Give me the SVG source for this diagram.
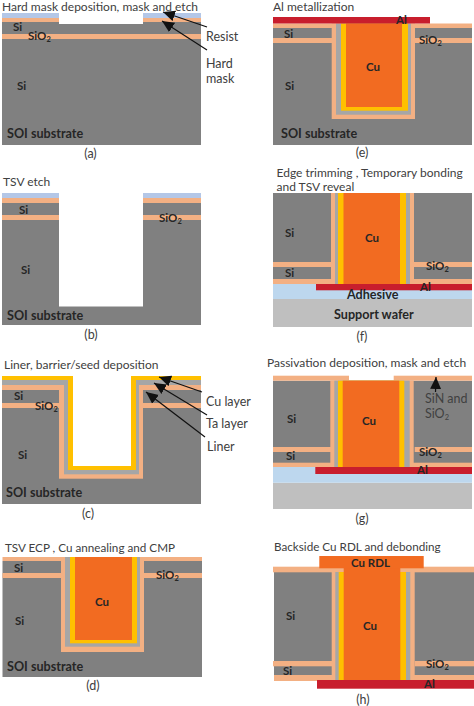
<svg xmlns="http://www.w3.org/2000/svg" width="474" height="706" viewBox="0 0 474 706">
<style>
text{font-family:Lato,"Liberation Sans",sans-serif;fill:#404040}
.t{font-size:12px}
.t2{font-size:11.7px}
.c{font-size:12.5px;text-anchor:middle}
.l{font-size:11.5px;fill:#262626;font-weight:700}
.b{font-size:12.6px;fill:#262626;font-weight:700}
.n{font-size:12.5px;fill:#404040}
.si{fill:#808080}.ox{fill:#f3b083}.re{fill:#b4c7e7}.ta{fill:#a6a6a6}.y{fill:#ffc000}.cu{fill:#f26b21}.al{fill:#c81e2d}.ad{fill:#bdd7ee}.su{fill:#bfbfbf}
.a{stroke:#111;stroke-width:1.2;fill:none;marker-end:url(#ah)}
tspan.s{font-size:7.5px}
</style>
<defs><marker id="ah" markerUnits="userSpaceOnUse" markerWidth="13" markerHeight="12" refX="12" refY="6" orient="auto"><path d="M0 0.500L12 6L0 11.500z" fill="#111"/></marker></defs>
<rect width="474" height="706" fill="#fff"/>

<g id="panel-a">
<text class="t" x="2" y="11">Hard mask deposition, mask and etch</text>
<rect class="si" x="2" y="22" width="199" height="123"/>
<rect class="re" x="2" y="13" width="199" height="5"/>
<rect class="ox" x="2" y="18" width="199" height="4"/>
<rect class="ox" x="2" y="34" width="199" height="5"/>
<rect x="59" y="13" width="84" height="11" fill="#fff"/>
<text class="l" x="13" y="31">Si</text>
<text class="l" x="28" y="40">SiO<tspan class="s" dy="2">2</tspan></text>
<text class="l" x="17" y="90">Si</text>
<text class="b" x="7" y="138">SOI substrate</text>
<text class="n" x="206" y="41">Resist</text>
<text class="n" x="206" y="68">Hard</text>
<text class="n" x="206" y="83">mask</text>
<text class="c" x="90.500" y="158">(a)</text>
</g>

<g id="panel-b">
<text class="t" x="3" y="186">TSV etch</text>
<rect class="si" x="2" y="203" width="199" height="122"/>
<rect class="re" x="2" y="193" width="199" height="5"/>
<rect class="ox" x="2" y="198" width="199" height="5"/>
<rect class="ox" x="2" y="215" width="199" height="5"/>
<rect x="59" y="190" width="84" height="116.500" fill="#fff"/>
<text class="l" x="19" y="214">Si</text>
<text class="l" x="159" y="222">SiO<tspan class="s" dy="2">2</tspan></text>
<text class="l" x="21" y="274">Si</text>
<text class="b" x="7" y="320">SOI substrate</text>
<text class="c" x="91" y="339">(b)</text>
</g>

<g id="panel-c">
<text class="t" x="4" y="369">Liner, barrier/seed deposition</text>
<rect class="si" x="2" y="390" width="199" height="114"/>
<rect class="ox" x="2" y="403" width="199" height="5"/>
<rect class="ox" x="59" y="376" width="84" height="102.700"/>
<rect class="ta" x="64" y="376" width="75" height="98.300"/>
<rect class="y" x="68" y="376" width="68" height="94"/>
<rect x="73" y="376" width="58" height="90" fill="#fff"/>
<rect class="ox" x="2" y="385" width="62" height="5"/>
<rect class="ox" x="139" y="385" width="62" height="5"/>
<rect class="ta" x="2" y="380" width="66" height="5"/>
<rect class="ta" x="136" y="380" width="65" height="5"/>
<rect class="y" x="2" y="376" width="71" height="4"/>
<rect class="y" x="131" y="376" width="70" height="4"/>
<text class="l" x="14" y="400">Si</text>
<text class="l" x="35" y="410">SiO<tspan class="s" dy="2">2</tspan></text>
<text class="l" x="18" y="459">Si</text>
<text class="b" x="6" y="497">SOI substrate</text>
<text class="n" x="206" y="406">Cu layer</text>
<text class="n" x="206" y="428">Ta layer</text>
<text class="n" x="207" y="451">Liner</text>
<text class="c" x="88" y="518">(c)</text>
</g>

<g id="panel-d">
<text class="t2" x="5" y="552">TSV ECP , Cu annealing and CMP</text>
<rect class="si" x="2.500" y="561" width="199.500" height="116"/>
<rect class="ox" x="2.500" y="557" width="199.500" height="4"/>
<rect class="ox" x="2.500" y="573" width="199.500" height="5"/>
<rect class="ox" x="61" y="557" width="83" height="95"/>
<rect class="ta" x="65" y="557" width="75" height="89.700"/>
<rect class="y" x="70" y="557" width="67" height="86.300"/>
<rect class="cu" x="75" y="557" width="57" height="83"/>
<text class="l" x="14" y="572">Si</text>
<text class="l" x="156" y="579">SiO<tspan class="s" dy="2">2</tspan></text>
<text class="l" x="15" y="625">Si</text>
<text class="b" x="7" y="671">SOI substrate</text>
<text class="l" x="95" y="606">Cu</text>
<text class="c" x="93" y="690">(d)</text>
</g>

<g id="panel-e">
<text class="t" x="273" y="11">Al metallization</text>
<rect class="si" x="273" y="28" width="199" height="117"/>
<rect class="ox" x="273" y="23.500" width="199" height="4.500"/>
<rect class="ox" x="273" y="38" width="199" height="5"/>
<rect class="ox" x="331.700" y="23.500" width="83.300" height="95.500"/>
<rect class="ta" x="336" y="23.500" width="75" height="91.200"/>
<rect class="y" x="341" y="23.500" width="67" height="87.200"/>
<rect class="cu" x="346" y="23.500" width="56" height="83.500"/>
<rect class="al" x="273" y="17" width="157" height="6.500"/>
<text class="l" x="396" y="24">Al</text>
<text class="l" x="284" y="38">Si</text>
<text class="l" x="419" y="44">SiO<tspan class="s" dy="2">2</tspan></text>
<text class="l" x="285" y="90">Si</text>
<text class="b" x="281" y="138">SOI substrate</text>
<text class="l" x="366" y="71">Cu</text>
<text class="c" x="362" y="157">(e)</text>
</g>

<g id="panel-f">
<text class="t" x="276.500" y="177">Edge trimming , Temporary bonding</text>
<text class="t" x="276.500" y="191">and TSV reveal</text>
<rect class="su" x="273" y="299" width="199" height="28"/>
<rect class="ad" x="273" y="284" width="199" height="15"/>
<rect class="si" x="273" y="193" width="199" height="86"/>
<rect class="ox" x="273" y="262" width="63" height="5"/>
<rect class="ox" x="414" y="262" width="58" height="5"/>
<rect class="ox" x="273" y="279" width="199" height="5"/>
<rect class="ox" x="331" y="193" width="83" height="91"/>
<rect class="ta" x="335" y="193" width="75" height="91"/>
<rect class="y" x="338" y="193" width="68" height="91"/>
<rect class="cu" x="343.500" y="193" width="56.500" height="91"/>
<rect class="al" x="316" y="284" width="156" height="6.300"/>
<text class="l" x="285" y="237">Si</text>
<text class="l" x="285" y="277">Si</text>
<text class="l" x="426" y="270">SiO<tspan class="s" dy="2">2</tspan></text>
<text class="l" x="420" y="291">Al</text>
<text class="l" x="365" y="242">Cu</text>
<text class="b" x="347" y="299">Adhesive</text>
<text class="b" x="334" y="319">Support wafer</text>
<text class="c" x="362" y="341">(f)</text>
</g>

<g id="panel-g">
<text class="t" x="267" y="367">Passivation deposition, mask and etch</text>
<rect class="su" x="273" y="482.700" width="199" height="26.300"/>
<rect class="ad" x="273" y="467" width="199" height="15.700"/>
<rect class="si" x="273" y="380.700" width="199" height="86.300"/>
<rect class="ox" x="273" y="447" width="62" height="5"/>
<rect class="ox" x="414.700" y="447" width="57.300" height="5"/>
<rect class="ox" x="273" y="462.700" width="199" height="4.300"/>
<rect class="ox" x="273" y="375.700" width="76" height="5"/>
<rect class="ox" x="393.700" y="375.700" width="78.300" height="5"/>
<rect class="ox" x="330.300" y="380.700" width="83.400" height="86.300"/>
<rect class="ta" x="334.300" y="380.700" width="75.400" height="86.300"/>
<rect class="y" x="338" y="380.700" width="66.300" height="86.300"/>
<rect class="cu" x="342.700" y="380.700" width="56.600" height="86.300"/>
<rect class="al" x="315.300" y="467" width="156.700" height="7"/>
<text class="l" x="287" y="423">Si</text>
<text class="l" x="286" y="460">Si</text>
<text class="l" x="419" y="456">SiO<tspan class="s" dy="2">2</tspan></text>
<text class="l" x="417" y="474">Al</text>
<text class="l" x="362" y="425">Cu</text>
<text class="n" x="425" y="403">SiN and</text>
<text class="n" x="425" y="418">SiO<tspan class="s" dy="2">2</tspan></text>
<text class="c" x="362" y="523">(g)</text>
</g>

<g id="panel-h">
<text class="t2" x="274" y="551">Backside Cu RDL and debonding</text>
<rect class="si" x="274" y="572" width="200" height="108"/>
<rect class="ox" x="273" y="661" width="63" height="5.300"/>
<rect class="ox" x="414.700" y="661" width="59.300" height="5.300"/>
<rect class="ox" x="274" y="675" width="200" height="6"/>
<rect class="ox" x="273" y="566.700" width="201" height="5.600"/>
<rect class="ox" x="331.700" y="572" width="83" height="109"/>
<rect class="ta" x="335.300" y="572" width="75" height="109"/>
<rect class="y" x="338.700" y="572" width="67.300" height="109"/>
<rect class="cu" x="343.700" y="566.700" width="56.600" height="114.300"/>
<rect class="cu" x="351" y="566" width="43.300" height="6"/>
<rect class="cu" x="319.300" y="556" width="104.400" height="12.300"/>
<rect class="al" x="317" y="680" width="157" height="8.700"/>
<text class="l" x="351" y="567">Cu RDL</text>
<text class="l" x="286" y="620">Si</text>
<text class="l" x="283" y="675">Si</text>
<text class="l" x="426" y="668">SiO<tspan class="s" dy="2">2</tspan></text>
<text class="l" x="424" y="688">Al</text>
<text class="l" x="363" y="630">Cu</text>
<text class="c" x="363" y="704">(h)</text>
</g>

<g id="connectors">
<line class="a" x1="207" y1="27" x2="163" y2="12"/>
<line class="a" x1="207" y1="50" x2="162" y2="21"/>
<line class="a" x1="202" y1="392" x2="159" y2="377"/>
<line class="a" x1="207" y1="415" x2="154" y2="383"/>
<line class="a" x1="205" y1="437" x2="146" y2="392"/>
<line class="a" x1="435.500" y1="392" x2="436" y2="377"/>
</g>
</svg>
